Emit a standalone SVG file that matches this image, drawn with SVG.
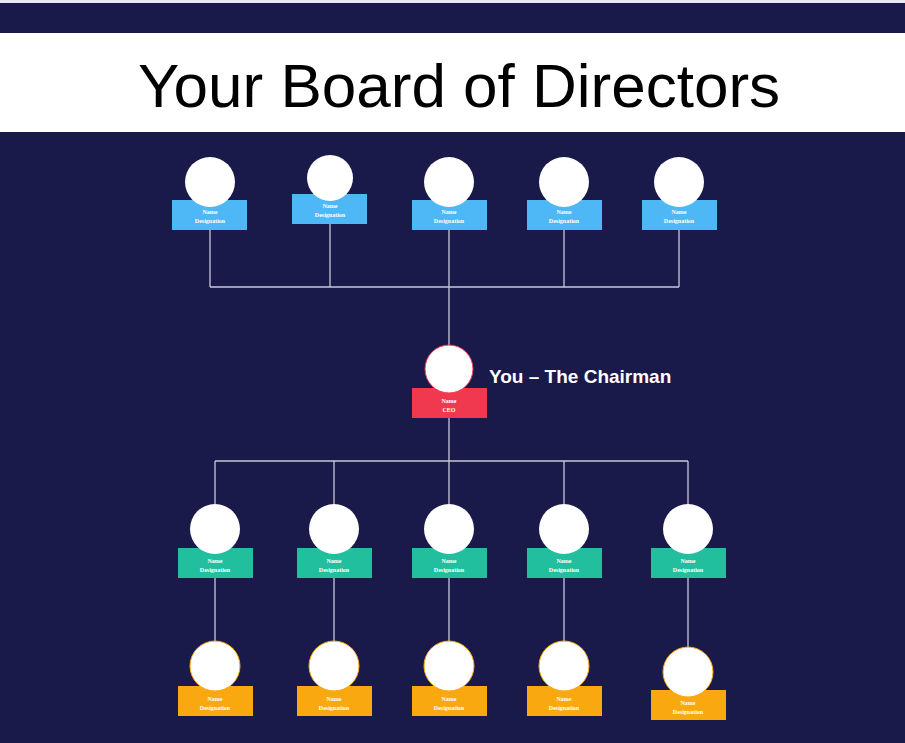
<svg xmlns="http://www.w3.org/2000/svg" width="905" height="743" viewBox="0 0 905 743">
<defs><style>
.c{fill:#fff}
.b{fill:#4db8f5}.g{fill:#21bf9e}.o{fill:#f9a90f}.r{fill:#f0394f}
.t{font-family:"Liberation Serif",serif;font-size:6px;fill:#fff;text-anchor:middle;font-weight:bold}
.ln{stroke:#c8c8dc;stroke-width:1.3;fill:none}
</style></defs>
<rect width="905" height="743" fill="#19194a"/>
<rect y="0" width="905" height="3" fill="#e8e8f0"/>
<rect y="33" width="905" height="99" fill="#fff"/>
<text x="459" y="107" font-family="Liberation Sans, Arial, sans-serif" font-size="62" text-anchor="middle" fill="#000">Your Board of Directors</text>
<g id="connectors" class="ln">
<path d="M210 230V287M330 224V287M449 230V345M564 230V287M679 230V287M210 287H679"/>
<path d="M449 418V461M215 461H688M215 461V504M334 461V504M449 461V504M564 461V504M688 461V504"/>
<path d="M215 578V641M334 578V641M449 578V641M564 578V641M688 578V647"/>
</g>
<g id="t1"><rect class="b" x="172" y="200" width="75" height="30"/><circle class="c" cx="210" cy="182" r="25"/><text class="t" x="210" y="214">Name</text><text class="t" x="210" y="223">Designation</text></g>
<g id="t2"><rect class="b" x="292" y="194" width="75" height="30"/><circle class="c" cx="330" cy="178" r="23"/><text class="t" x="330" y="208">Name</text><text class="t" x="330" y="217">Designation</text></g>
<g id="t3"><rect class="b" x="412" y="200" width="75" height="30"/><circle class="c" cx="449" cy="182" r="25"/><text class="t" x="449" y="214">Name</text><text class="t" x="449" y="223">Designation</text></g>
<g id="t4"><rect class="b" x="527" y="200" width="75" height="30"/><circle class="c" cx="564" cy="182" r="25"/><text class="t" x="564" y="214">Name</text><text class="t" x="564" y="223">Designation</text></g>
<g id="t5"><rect class="b" x="642" y="200" width="75" height="30"/><circle class="c" cx="679" cy="182" r="25"/><text class="t" x="679" y="214">Name</text><text class="t" x="679" y="223">Designation</text></g>
<g id="ceo"><rect class="r" x="412" y="388" width="75" height="30"/><circle class="c" cx="449" cy="369" r="24" stroke="#f0394f" stroke-width="1"/><text class="t" x="449" y="403">Name</text><text class="t" x="449" y="412">CEO</text>
<text x="489" y="383" font-family="Liberation Sans, Arial, sans-serif" font-size="19" font-weight="bold" fill="#fff">You – The Chairman</text></g>
<g id="g1"><rect class="g" x="178" y="548" width="75" height="30"/><circle class="c" cx="215" cy="529" r="25"/><text class="t" x="215" y="563">Name</text><text class="t" x="215" y="572">Designation</text></g>
<g id="g2"><rect class="g" x="297" y="548" width="75" height="30"/><circle class="c" cx="334" cy="529" r="25"/><text class="t" x="334" y="563">Name</text><text class="t" x="334" y="572">Designation</text></g>
<g id="g3"><rect class="g" x="412" y="548" width="75" height="30"/><circle class="c" cx="449" cy="529" r="25"/><text class="t" x="449" y="563">Name</text><text class="t" x="449" y="572">Designation</text></g>
<g id="g4"><rect class="g" x="527" y="548" width="75" height="30"/><circle class="c" cx="564" cy="529" r="25"/><text class="t" x="564" y="563">Name</text><text class="t" x="564" y="572">Designation</text></g>
<g id="g5"><rect class="g" x="651" y="548" width="75" height="30"/><circle class="c" cx="688" cy="529" r="25"/><text class="t" x="688" y="563">Name</text><text class="t" x="688" y="572">Designation</text></g>
<g id="y1"><rect class="o" x="178" y="686" width="75" height="30"/><circle class="c" cx="215" cy="666" r="25" stroke="#f9a90f"/><text class="t" x="215" y="701">Name</text><text class="t" x="215" y="710">Designation</text></g>
<g id="y2"><rect class="o" x="297" y="686" width="75" height="30"/><circle class="c" cx="334" cy="666" r="25" stroke="#f9a90f"/><text class="t" x="334" y="701">Name</text><text class="t" x="334" y="710">Designation</text></g>
<g id="y3"><rect class="o" x="412" y="686" width="75" height="30"/><circle class="c" cx="449" cy="666" r="25" stroke="#f9a90f"/><text class="t" x="449" y="701">Name</text><text class="t" x="449" y="710">Designation</text></g>
<g id="y4"><rect class="o" x="527" y="686" width="75" height="30"/><circle class="c" cx="564" cy="666" r="25" stroke="#f9a90f"/><text class="t" x="564" y="701">Name</text><text class="t" x="564" y="710">Designation</text></g>
<g id="y5"><rect class="o" x="651" y="690" width="75" height="30"/><circle class="c" cx="688" cy="672" r="25" stroke="#f9a90f"/><text class="t" x="688" y="705">Name</text><text class="t" x="688" y="714">Designation</text></g>
</svg>
